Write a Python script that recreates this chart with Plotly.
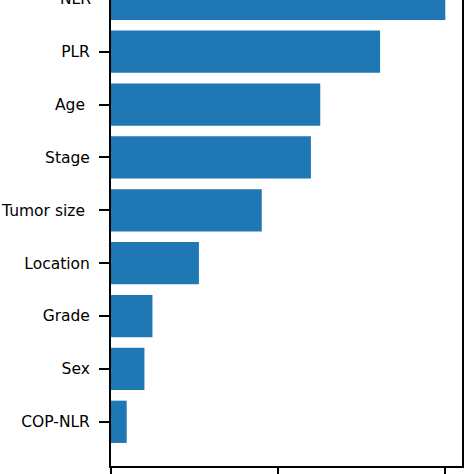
import plotly.graph_objects as go

# features listed bottom to top, importance relative to NLR (=100)
features = ["COP-NLR", "Sex", "Grade", "Location", "Tumor size\u00a0", "Stage", "Age\u00a0", "PLR", "NLR"]
importance = [4.7, 10.0, 12.4, 26.3, 45.1, 59.8, 62.6, 80.5, 100.0]
x_ticks = [0, 50, 100]

positions = list(range(len(features)))
y_range = [-0.836, 7.978]

fig = go.Figure(go.Bar(
    x=importance,
    y=positions,
    orientation="h",
    width=0.8,
    marker=dict(color="#1f77b4", line=dict(width=0)),
))

fig.update_layout(
    width=474,
    height=474,
    margin=dict(l=111, r=12, t=0, b=8),
    paper_bgcolor="white",
    plot_bgcolor="white",
    showlegend=False,
    font=dict(family="DejaVu Sans", size=15.5, color="black"),
)

fig.update_xaxes(
    range=[0, 105],
    tickvals=x_ticks,
    ticks="outside", ticklen=10, tickwidth=2, tickcolor="black",
    showline=True, linecolor="black", linewidth=2, mirror=False,
    showgrid=False, zeroline=False, automargin=False,
)

fig.update_yaxes(
    range=y_range,
    tickvals=positions, ticktext=features,
    ticks="outside", ticklen=10, tickwidth=2, tickcolor="black",
    ticklabelstandoff=6,
    showline=True, linecolor="black", linewidth=2, mirror=True,
    showgrid=False, zeroline=False, automargin=False,
)

# top label sits just beyond the cropped top edge, draw it as a paper annotation
top = len(features) - 1
fig.add_annotation(
    text=features[top],
    xref="paper", x=0, xanchor="right", xshift=-18,
    yref="paper", y=(positions[top] - y_range[0]) / (y_range[1] - y_range[0]),
    yanchor="middle", showarrow=False,
    font=dict(family="DejaVu Sans", size=15.5, color="black"),
)

fig.write_html("out.html", config={"displayModeBar": False},
               post_script="document.body.style.margin='0';")
